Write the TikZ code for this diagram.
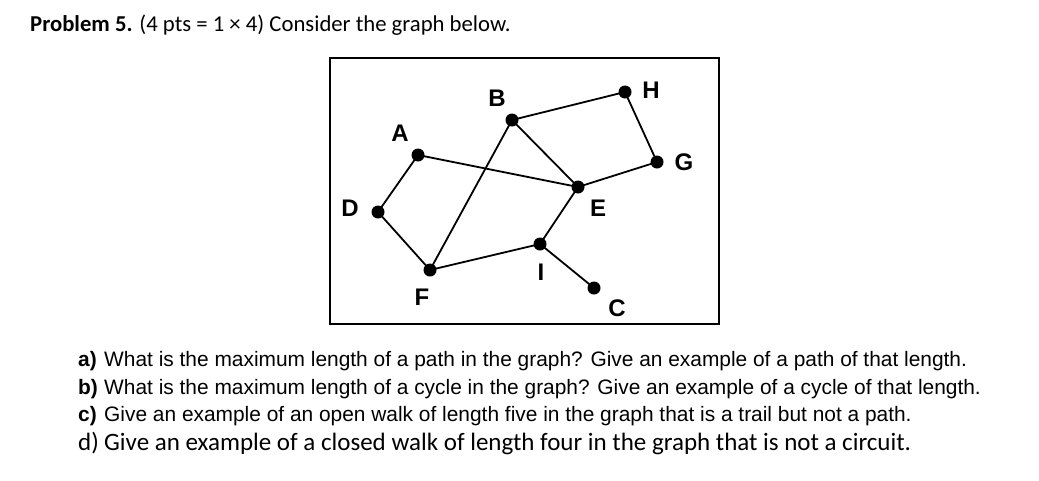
\documentclass[tikz,border=0pt]{standalone}
\usepackage{fontspec}
\setmainfont{Carlito}
\newfontfamily\arial{Liberation Sans}
\begin{document}
\begin{tikzpicture}[x=1pt,y=-1pt,
  vtx/.style={circle,fill=black,inner sep=0pt,minimum size=13pt},
  lbl/.style={font=\arial\bfseries\fontsize{24}{24}\selectfont,inner sep=0pt},
  edge/.style={line width=1.8pt},
  qtext/.style={anchor=base west,inner sep=0pt,font=\arial\fontsize{20.9}{22}\selectfont}]
\useasboundingbox[fill=white] (0,0) rectangle (1039,480);
\node[anchor=base west,inner sep=0pt,font=\fontsize{22.7}{24}\selectfont] (title) at (30,31) {\textbf{Problem 5.} (4 pts = 1 × 4) Consider the graph below.};
\draw[line width=1.4pt] (330,58) rectangle (719,324);
\node[vtx] (B) at (512,120) {}; \node[lbl] (lB) at (497,98) {B};
\node[vtx] (H) at (625,92) {}; \node[lbl] (lH) at (651,90) {H};
\node[vtx] (A) at (418,155) {}; \node[lbl] (lA) at (400,133) {A};
\node[vtx] (G) at (657,162) {}; \node[lbl] (lG) at (684,162) {G};
\node[vtx] (E) at (578,187) {}; \node[lbl] (lE) at (598,208) {E};
\node[vtx] (D) at (378,212) {}; \node[lbl] (lD) at (350,208) {D};
\node[vtx] (I) at (540,244) {}; \node[lbl] (lI) at (541,272) {I};
\node[vtx] (F) at (430,270) {}; \node[lbl] (lF) at (422,297) {F};
\node[vtx] (C) at (594,288) {}; \node[lbl] (lC) at (617,308) {C};
\draw[edge] (B.center)--(H.center)--(G.center)--(E.center);
\draw[edge] (A.center)--(E.center);
\draw[edge] (B.center)--(E.center);
\draw[edge] (A.center)--(D.center)--(F.center)--(B.center);
\draw[edge] (F.center)--(I.center)--(E.center);
\draw[edge] (I.center)--(C.center);
\node[qtext] (la) at (78,366) {\textbf{a)}};
\node[qtext] (qa) at (104,366) {What is the maximum length of a path in the graph? Give an example of a path of that length.};
\node[qtext] (lb) at (78,394) {\textbf{b)}};
\node[qtext] (qb) at (104,394) {What is the maximum length of a cycle in the graph? Give an example of a cycle of that length.};
\node[qtext] (lc) at (78,421) {\textbf{c)}};
\node[qtext] (qc) at (104,421) {Give an example of an open walk of length five in the graph that is a trail but not a path.};
\node[anchor=base west,inner sep=0pt,font=\fontsize{25}{26}\selectfont] (ld) at (78,450) {d)};
\node[anchor=base west,inner sep=0pt,font=\fontsize{25}{26}\selectfont] (qd) at (104,450) {Give an example of a closed walk of length four in the graph that is not a circuit.};
\end{tikzpicture}
\end{document}
